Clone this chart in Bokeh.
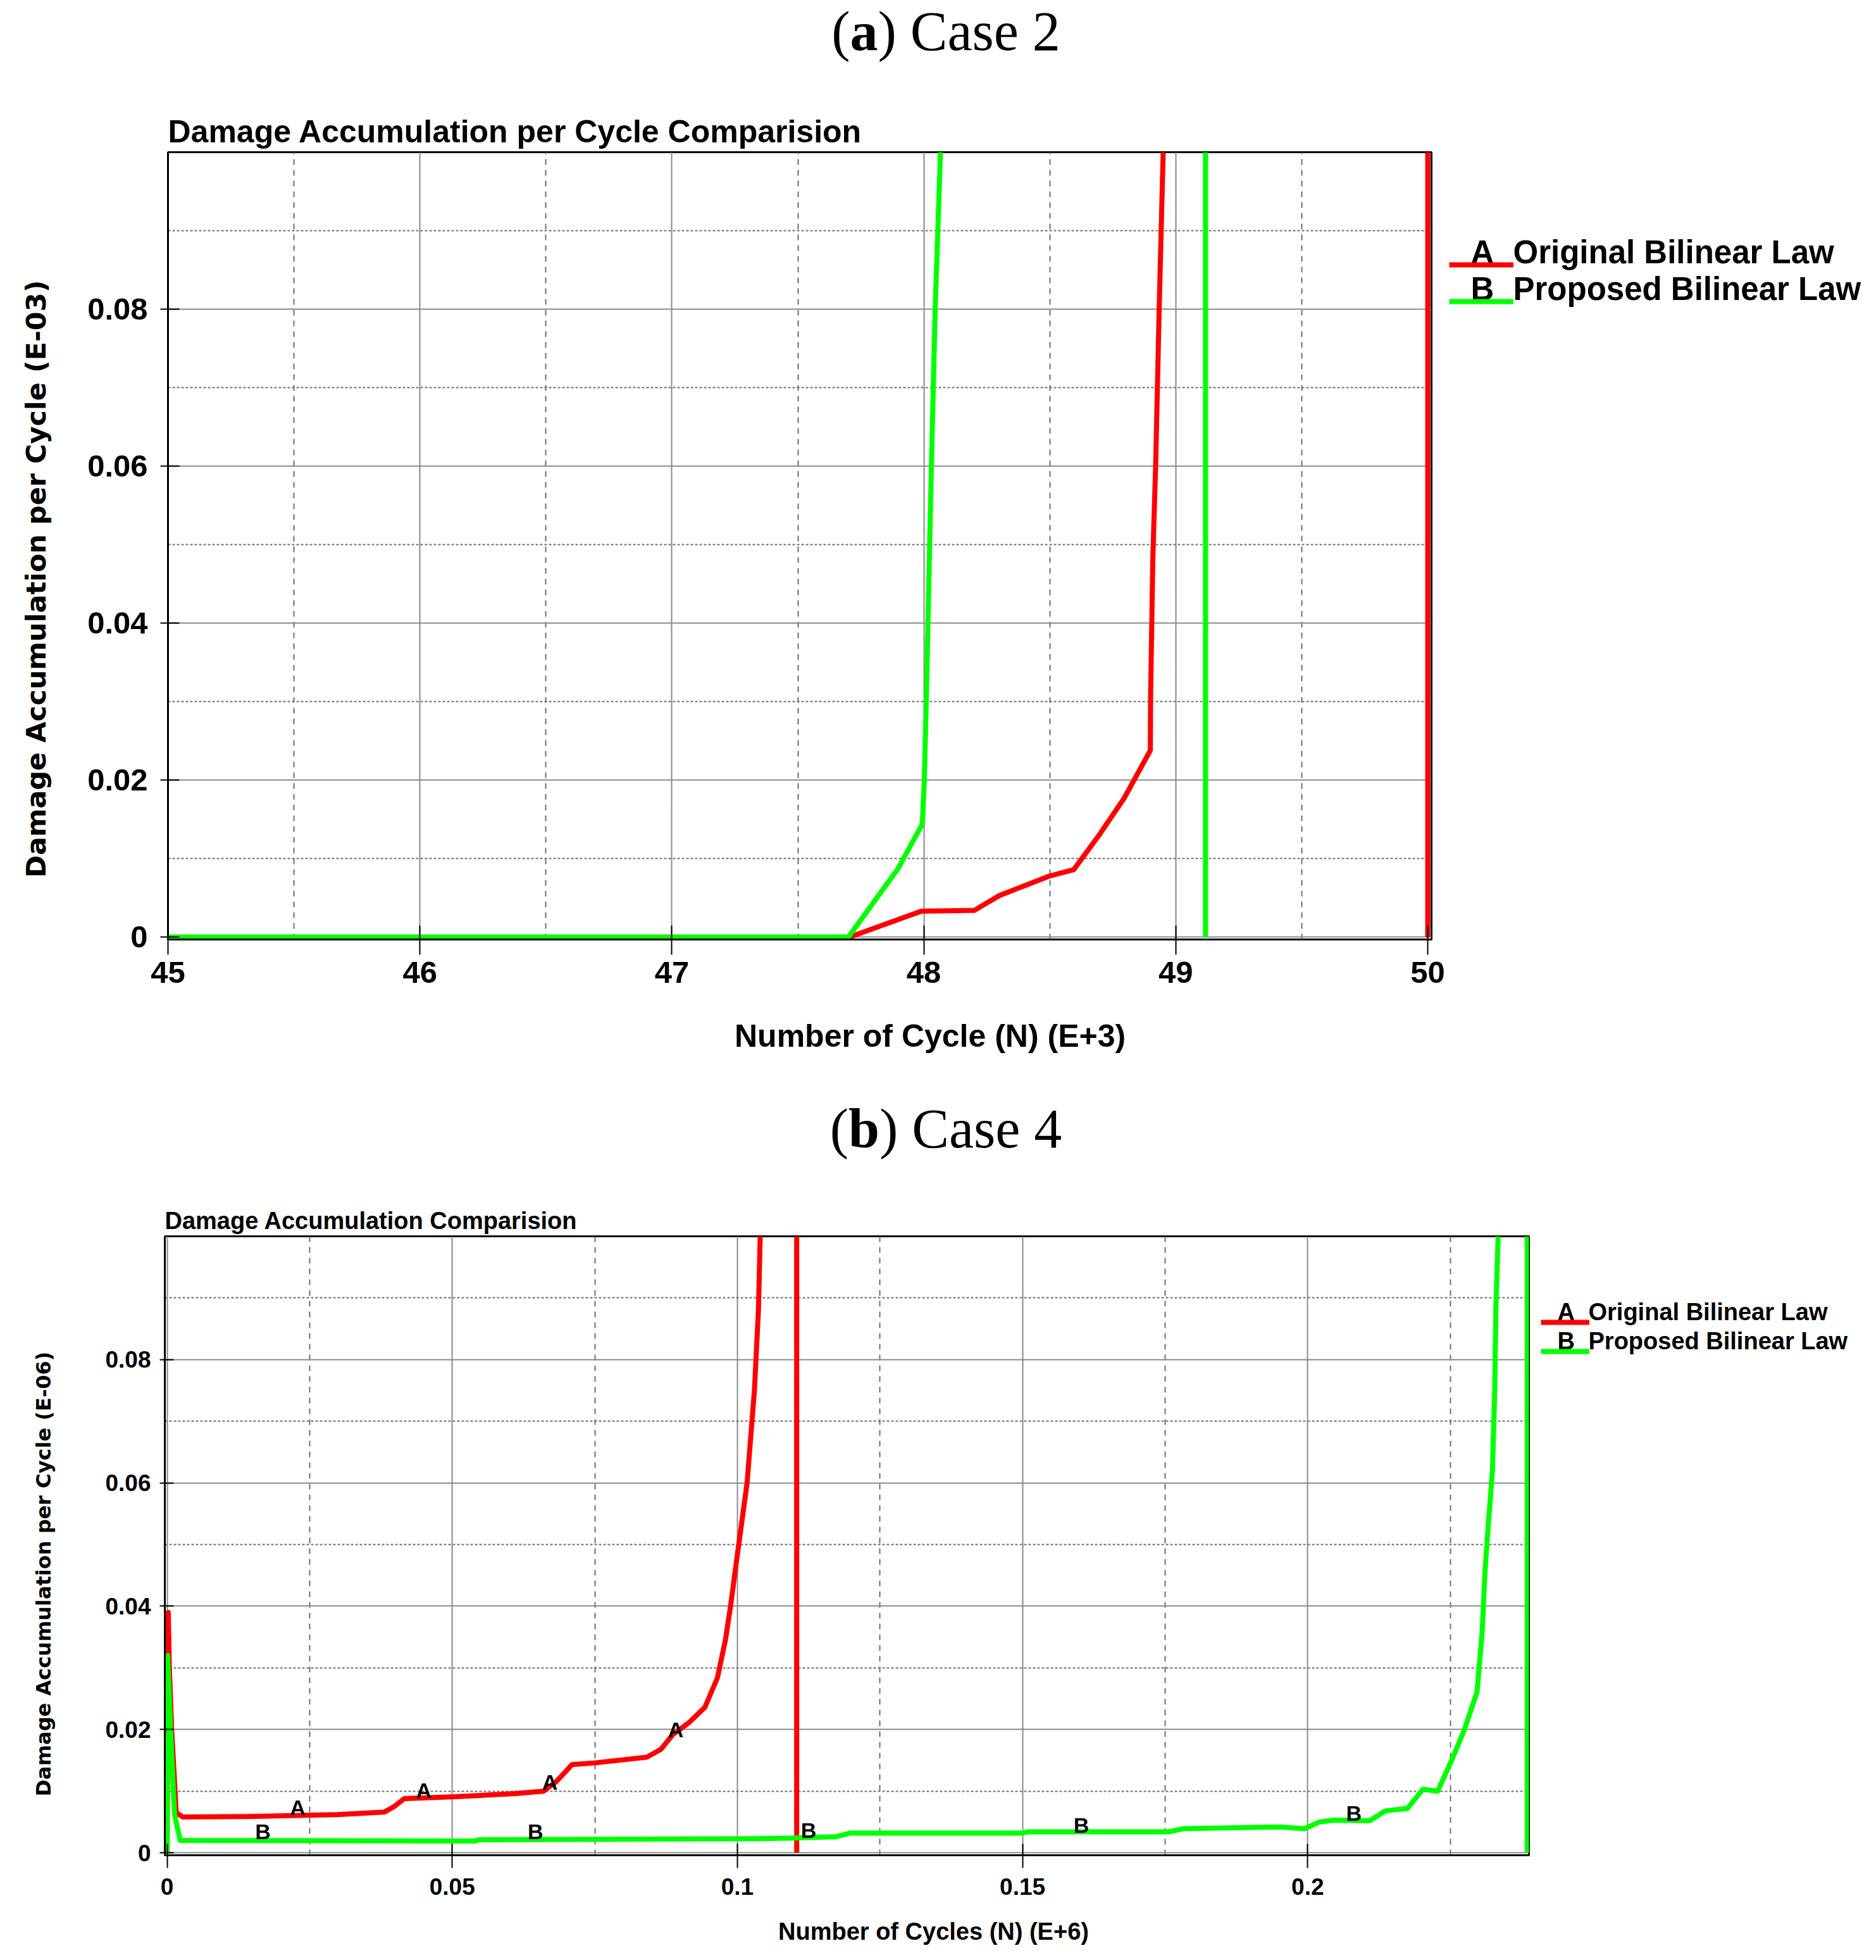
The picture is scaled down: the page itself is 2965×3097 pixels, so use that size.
import math
from bokeh.plotting import figure
from bokeh.models import Range1d, FixedTicker, Legend, LegendItem, Label, Div
from bokeh.layouts import row
from bokeh.embed import file_html
from bokeh.resources import INLINE
from bokeh.core.properties import value

nan = float("nan")

# ---------------- Case 2 ----------------
case2_orig_N = [45.0, 47.705, 47.99, 48.2, 48.3, 48.5, 48.595, 48.7, 48.795, 48.899, 48.9,
                48.909, 48.92, 48.934, 48.95, nan, 50.0, 50.0]
case2_orig_D = [0.0, 0.0, 0.0033, 0.0034, 0.0053, 0.0078, 0.0086, 0.0132, 0.0177, 0.0238, 0.0306,
                0.0484, 0.060, 0.080, 0.100, nan, 0.100, 0.0]
case2_prop_N = [45.0, 47.70, 47.897, 47.994, 48.002, 48.01, 48.022, 48.03, 48.045, 48.066,
                nan, 49.118, 49.118]
case2_prop_D = [0.0, 0.0, 0.0087, 0.0144, 0.020, 0.0306, 0.0484, 0.060, 0.080, 0.100,
                nan, 0.100, 0.0]
case2_xticks = [45, 46, 47, 48, 49, 50]
case2_xtick_labels = ["45", "46", "47", "48", "49", "50"]
case2_xminor = [45.5, 46.5, 47.5, 48.5, 49.5]

# ---------------- Case 4 ----------------
case4_orig_N = [0.0, 0.0002, 0.0004, 0.0008, 0.0016, 0.0028, 0.0144, 0.0299, 0.0381, 0.0398,
                0.0416, 0.0505, 0.0611, 0.066, 0.0682, 0.071, 0.0752, 0.0841, 0.0866, 0.0887,
                0.0915, 0.0943, 0.0965, 0.0979, 0.0988, 0.0998, 0.1017, 0.103, 0.1037, 0.104,
                nan, 0.1104, 0.1104]
case4_orig_D = [0.0, 0.039, 0.030, 0.020, 0.0065, 0.0058, 0.0059, 0.0062, 0.0066, 0.0075,
                0.0088, 0.0091, 0.0096, 0.0100, 0.0115, 0.0143, 0.0146, 0.0155, 0.0168, 0.0192,
                0.0211, 0.0236, 0.0284, 0.0345, 0.040, 0.047, 0.060, 0.0752, 0.0883, 0.100,
                nan, 0.100, 0.0]
case4_prop_N = [0.0, 0.0001, 0.0006, 0.0013, 0.0023, 0.054, 0.0545, 0.1039, 0.1101, 0.1172,
                0.1198, 0.1499, 0.151, 0.1756, 0.1782, 0.195, 0.1994, 0.2021, 0.2047, 0.2109,
                0.2136, 0.2175, 0.2202, 0.2228, 0.2252, 0.2274, 0.2297, 0.2306, 0.2311, 0.2317,
                0.2324, 0.2328, 0.233, 0.2334, nan, 0.2385, 0.2385]
case4_prop_D = [0.0, 0.032, 0.020, 0.0062, 0.0020, 0.0019, 0.0021, 0.0023, 0.0024, 0.0026,
                0.0032, 0.0032, 0.0034, 0.0034, 0.0039, 0.0042, 0.0039, 0.0050, 0.0053, 0.0052,
                0.0068, 0.0072, 0.0103, 0.0100, 0.0149, 0.0198, 0.0261, 0.0359, 0.0457, 0.0536,
                0.0621, 0.0752, 0.0883, 0.100, nan, 0.100, 0.0]
case4_A_N = [0.0229, 0.045, 0.0671, 0.0892]
case4_A_D = [0.0074, 0.0101, 0.0115, 0.0200]
case4_B_N = [0.0168, 0.0646, 0.1125, 0.1603, 0.2081]
case4_B_D = [0.0034, 0.0034, 0.0037, 0.0045, 0.0064]
case4_xticks = [0.0, 0.05, 0.1, 0.15, 0.2]
case4_xtick_labels = ["0", "0.05", "0.1", "0.15", "0.2"]
case4_xminor = [0.025, 0.075, 0.125, 0.175, 0.225]

yticks = [0.0, 0.02, 0.04, 0.06, 0.08]
ytick_labels = ["0", "0.02", "0.04", "0.06", "0.08"]
yminor = [0.01, 0.03, 0.05, 0.07, 0.09]

series_keys = ["A", "B"]
series_names = ["Original Bilinear Law", "Proposed Bilinear Law"]

RED = "#ff0000"
GREEN = "#00ff00"
SANS = "Liberation Sans"
W = 2960
LW = 8


def style(p, xticks, xlabels, xminor, tick_font, xt_in, xt_out, xstand, yt_in, yt_out, ystand,
          ylabel, ylabel_font, ylabel_stand):
    p.background_fill_color = "white"
    p.border_fill_color = "white"
    p.outline_line_color = "black"
    p.outline_line_width = 3
    p.xaxis.ticker = FixedTicker(ticks=xticks, minor_ticks=xminor)
    p.xaxis.major_label_overrides = {t: l for t, l in zip(xticks, xlabels)}
    p.yaxis.ticker = FixedTicker(ticks=yticks, minor_ticks=yminor)
    p.yaxis.major_label_overrides = {t: l for t, l in zip(yticks, ytick_labels)}
    for ax in (p.xaxis[0], p.yaxis[0]):
        ax.axis_line_color = "black"
        ax.axis_line_width = 3
        ax.major_tick_line_color = "black"
        ax.major_tick_line_width = 2
        ax.minor_tick_line_color = None
        ax.major_label_text_font = SANS
        ax.major_label_text_font_style = "bold"
        ax.major_label_text_font_size = tick_font
        ax.major_label_text_color = "black"
    p.xaxis.major_tick_in = xt_in
    p.xaxis.major_tick_out = xt_out
    p.xaxis.major_label_standoff = xstand
    p.yaxis.major_tick_in = yt_in
    p.yaxis.major_tick_out = yt_out
    p.yaxis.major_label_standoff = ystand
    p.yaxis.axis_label = ylabel
    p.yaxis.axis_label_text_font = "DejaVu Sans"
    p.yaxis.axis_label_text_font_style = "bold"
    p.yaxis.axis_label_text_font_size = ylabel_font
    p.yaxis.axis_label_text_color = "black"
    p.yaxis.axis_label_standoff = ylabel_stand
    p.xgrid.ticker = p.xaxis.ticker
    p.ygrid.ticker = p.yaxis.ticker
    p.xgrid.grid_line_color = "#8a8a8a"
    p.xgrid.grid_line_width = 2
    p.ygrid.grid_line_color = "#8a8a8a"
    p.ygrid.grid_line_width = 2
    p.xgrid.minor_grid_line_color = "#6e6e6e"
    p.xgrid.minor_grid_line_width = 2
    p.xgrid.minor_grid_line_dash = "9 8"
    p.ygrid.minor_grid_line_color = "#6e6e6e"
    p.ygrid.minor_grid_line_width = 2
    p.ygrid.minor_grid_line_dash = "4 3"


def legend_fig(width, height, mb_top, mb_bottom, vx, vy, glyph_w, row_h, key_x, name_x, base_y,
               size):
    lf = figure(width=width, height=height, x_range=Range1d(0, 1), y_range=Range1d(0, 1),
                x_axis_type=None, y_axis_type=None, min_border_left=0, min_border_right=0,
                min_border_top=mb_top, min_border_bottom=mb_bottom,
                output_backend="svg", toolbar_location=None)
    lf.outline_line_color = None
    lf.grid.visible = False
    lf.background_fill_color = "white"
    lf.border_fill_color = "white"
    rs = [lf.line(x=[nan], y=[nan], line_color=c, line_width=LW) for c in (RED, GREEN)]
    leg = Legend(items=[LegendItem(label=k, renderers=[r]) for k, r in zip(series_keys, rs)],
                 location=(vx, vy), glyph_width=glyph_w, glyph_height=row_h, label_height=row_h,
                 label_standoff=0, spacing=0, padding=0, margin=0, label_width=1,
                 label_text_font_size="10px", label_text_alpha=0.0,
                 border_line_color=None, background_fill_alpha=0)
    lf.add_layout(leg)
    for i, (k, n) in enumerate(zip(series_keys, series_names)):
        for xx, t in ((key_x, k), (name_x, n)):
            lf.add_layout(Label(x=xx, y=base_y - i * row_h, x_units="screen", y_units="screen",
                                text=t, text_font=SANS, text_font_style="bold",
                                text_font_size=size, text_color="black",
                                text_baseline="alphabetic"))
    return lf


def text_div(html, height, pad_top, pad_left, size, family, align="left"):
    st = ("font-family:%s;font-size:%dpx;line-height:1;color:black;padding-top:%dpx;"
          "padding-left:%dpx;text-align:%s;white-space:nowrap;width:%dpx;"
          "box-sizing:border-box;display:block;" % (family, size, pad_top, pad_left, align, W))
    return Div(text='<div style="%s">%s</div>' % (st, html), width=W, height=height, margin=0)


NB = "\u00a0"

# ---------------- figure (a) ----------------
p1 = figure(width=2288, height=1452, x_range=Range1d(45, 50.015), y_range=Range1d(-0.0003, 0.1),
            min_border_left=265, min_border_right=26, min_border_top=102, min_border_bottom=106,
            output_backend="svg", toolbar_location=None)
p1.title.text = "Damage Accumulation per Cycle Comparision"
p1.title.text_font = SANS
p1.title.text_font_style = "bold"
p1.title.text_font_size = "50px"
p1.title.text_color = "black"
p1.title.align = "left"
p1.title.standoff = 10
style(p1, case2_xticks, case2_xtick_labels, case2_xminor, "49px", 22, 24, 11, 18, 12, 20,
      "Damage Accumulation per Cycle (E-03)" + NB * 7, "43px", 53)
p1.line(case2_orig_N, case2_orig_D, line_color=RED, line_width=LW, line_join="round")
p1.line(case2_prop_N, case2_prop_D, line_color=GREEN, line_width=LW, line_join="round")
lf1 = legend_fig(W - 2288, 1452, 102, 106, 2, 979, 102, 58, 36, 103, 1086, "51px")

# ---------------- figure (b) ----------------
p2 = figure(width=2424, height=1153, x_range=Range1d(-0.0004, 0.2388),
            y_range=Range1d(-0.0004, 0.1),
            min_border_left=260, min_border_right=8, min_border_top=85, min_border_bottom=90,
            output_backend="svg", toolbar_location=None)
p2.title.text = "Damage Accumulation Comparision"
p2.title.text_font = SANS
p2.title.text_font_style = "bold"
p2.title.text_font_size = "38px"
p2.title.text_color = "black"
p2.title.align = "left"
p2.title.standoff = 8
style(p2, case4_xticks, case4_xtick_labels, case4_xminor, "37px", 18, 20, 16, 14, 8, 14,
      "Damage Accumulation per Cycle (E-06)" + NB * 8, "32px", 75)
p2.line(case4_orig_N, case4_orig_D, line_color=RED, line_width=LW, line_join="round")
p2.line(case4_prop_N, case4_prop_D, line_color=GREEN, line_width=LW, line_join="round")
p2.text(case4_A_N, case4_A_D, text=[series_keys[0]] * len(case4_A_N), text_font=value(SANS),
        text_font_style="bold", text_font_size="34px", text_align="center",
        text_baseline="middle", text_color="black")
p2.text(case4_B_N, case4_B_D, text=[series_keys[1]] * len(case4_B_N), text_font=value(SANS),
        text_font_style="bold", text_font_size="34px", text_align="center",
        text_baseline="middle", text_color="black")
lf2 = legend_fig(W - 2424, 1153, 85, 90, 11, 773, 77, 46, 37, 86, 859, "38px")

serif = "'Liberation Serif'"
div_a = text_div("(<b>a</b>) Case 2", 138, 6, 30, 88, serif, "center")
div_x1 = text_div("Number of Cycle (N) (E+3)", 148, 22, 1161, 50,
                  "'Liberation Sans';font-weight:bold")
div_b = text_div("(<b>b</b>) Case 4", 130, 2, 30, 88, serif, "center")
div_x2 = text_div("Number of Cycles (N) (E+6)", 74, 12, 1230, 38,
                  "'Liberation Sans';font-weight:bold")

roots = [div_a, row(p1, lf1), div_x1, div_b, row(p2, lf2), div_x2]
open("out.html", "w").write(file_html(roots, INLINE))
